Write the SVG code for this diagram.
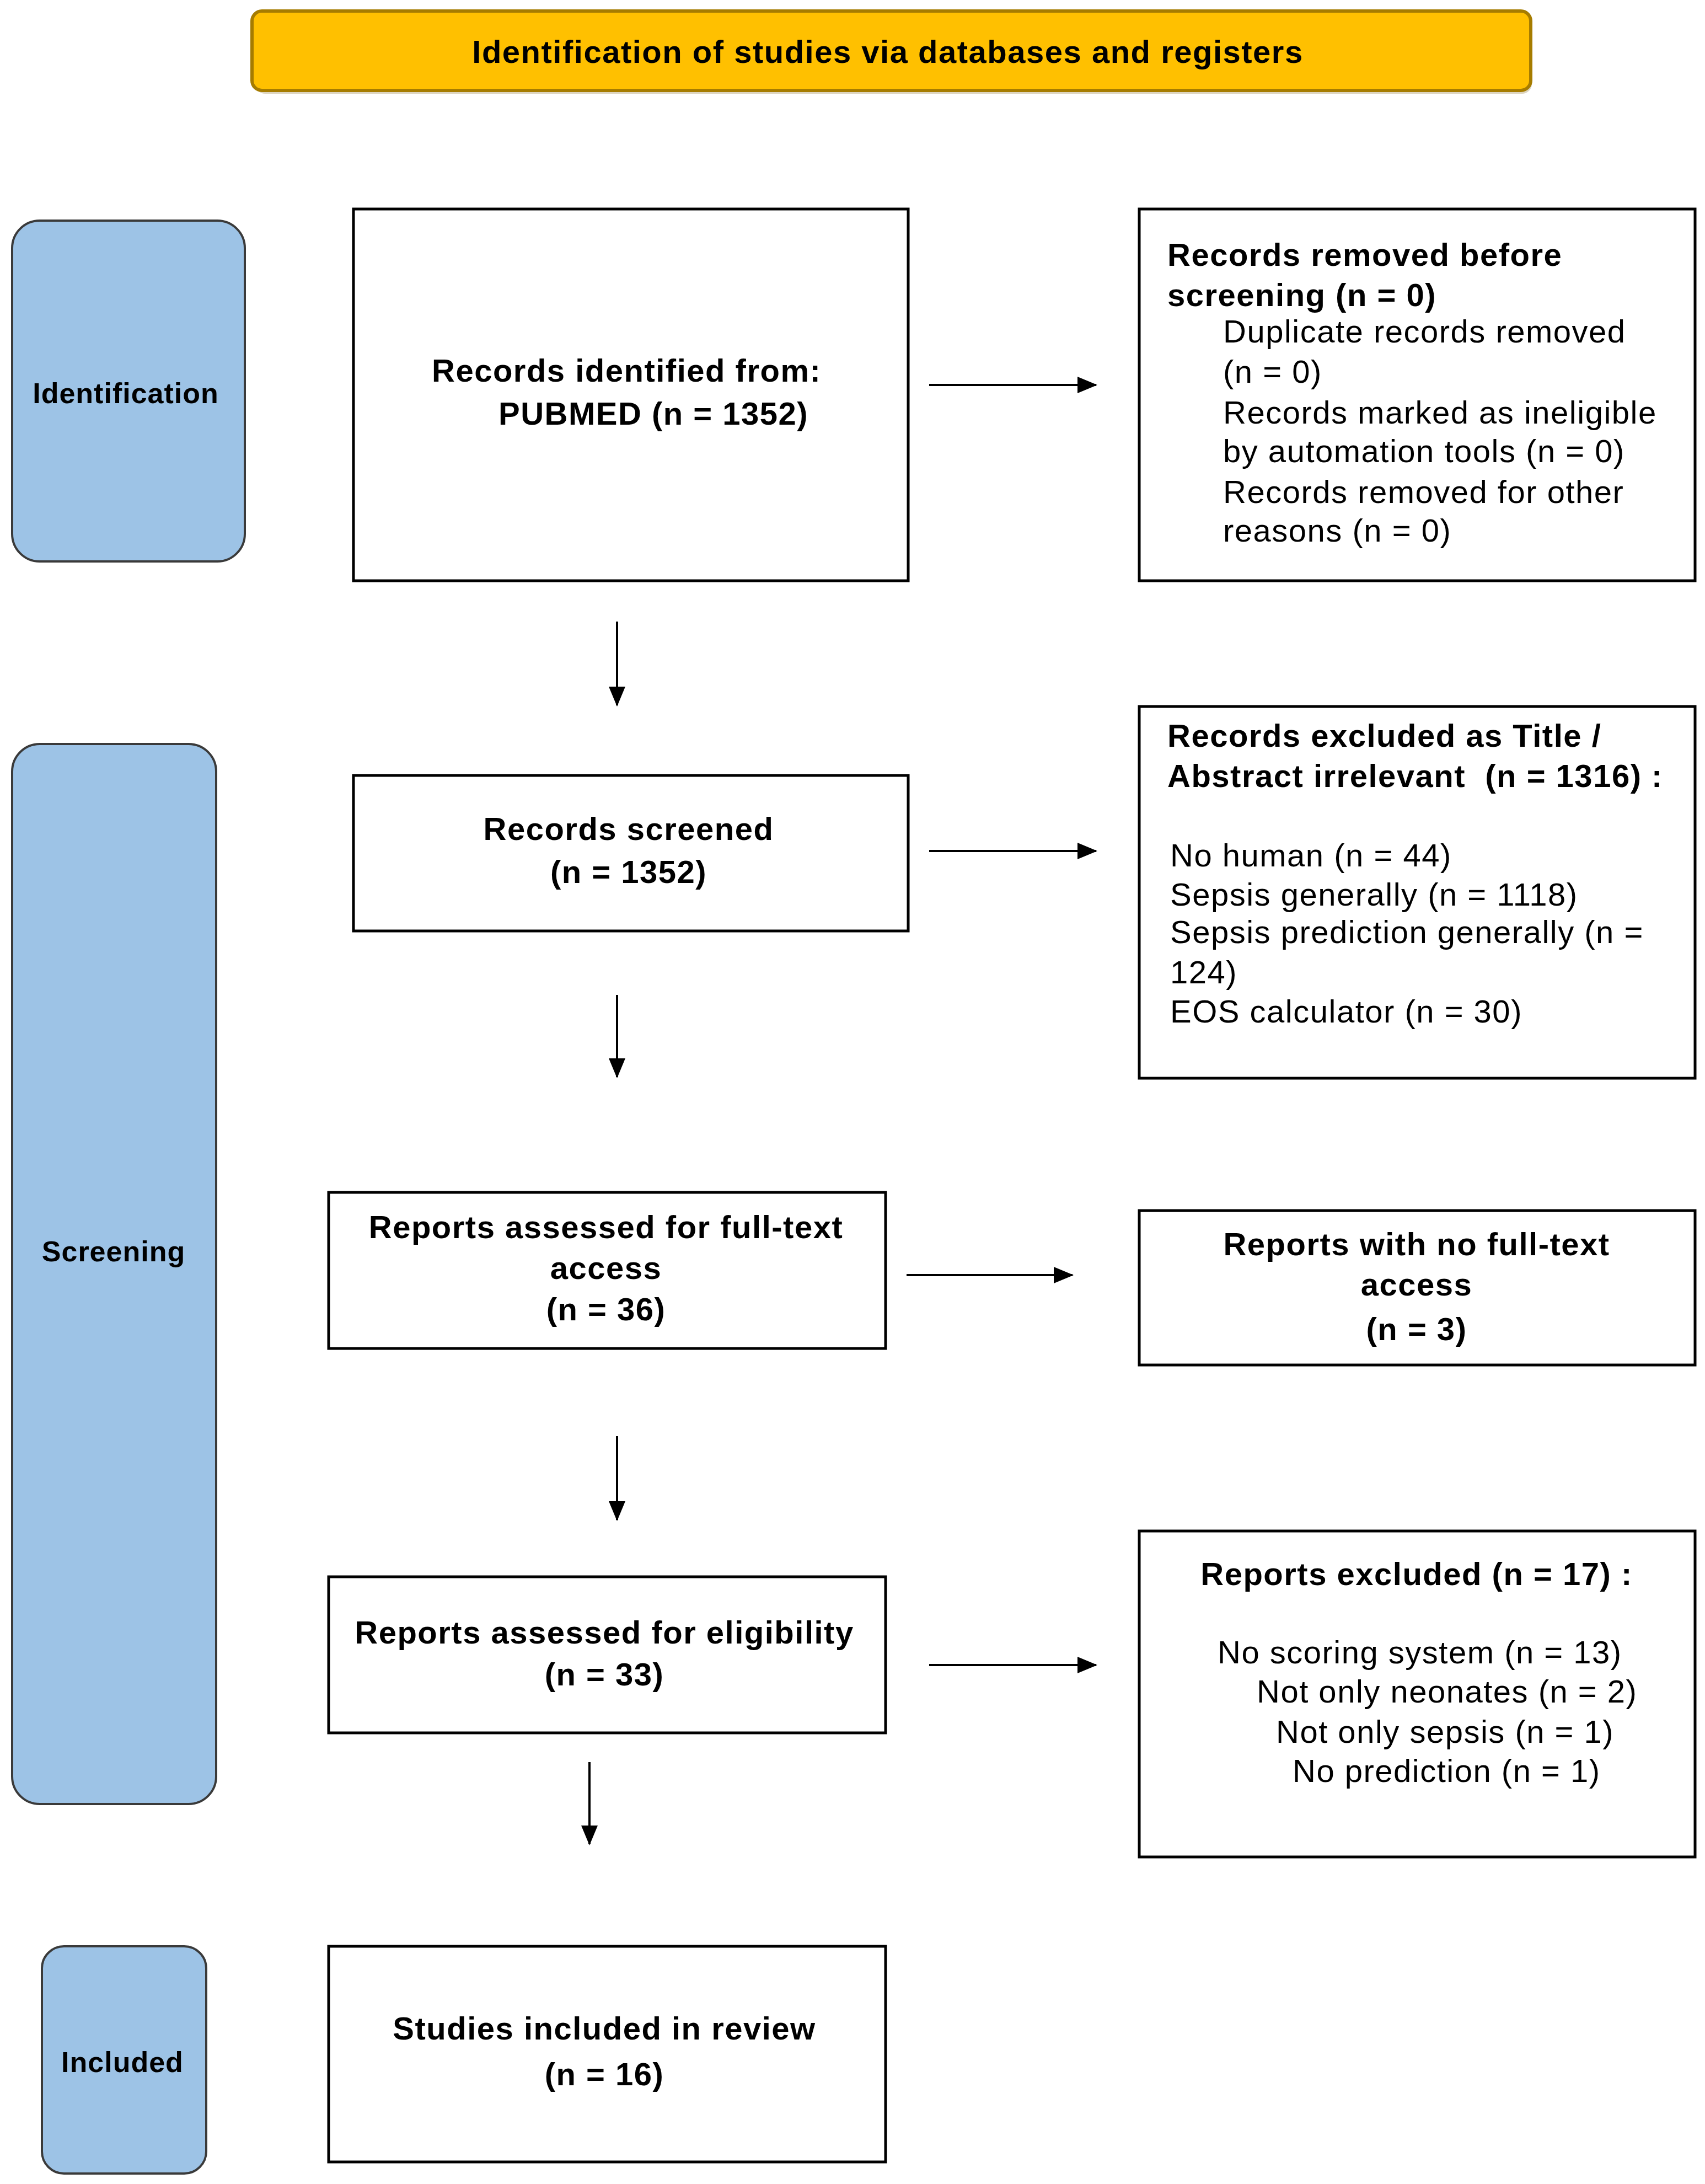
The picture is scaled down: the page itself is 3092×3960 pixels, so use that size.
<svg xmlns="http://www.w3.org/2000/svg" width="3092" height="3960" viewBox="0 0 3092 3960">
<defs>
<style>
.box{fill:#fff;stroke:#000;stroke-width:5}
.side{fill:#9DC3E6;stroke:#3a3a3a;stroke-width:4}
.t{font-family:"Liberation Sans",Arial,sans-serif;font-size:58px;letter-spacing:1.5px;fill:#000}
.b{font-weight:bold}
.s{font-family:"Liberation Sans",Arial,sans-serif;font-size:52px;font-weight:bold;letter-spacing:1px;fill:#000}
.m{text-anchor:middle}
.c{stroke:#000;stroke-width:4;fill:none}
</style>
<marker id="ah" markerUnits="userSpaceOnUse" markerWidth="36" markerHeight="30" refX="34" refY="15" orient="auto">
<path d="M0,0 L36,15 L0,30 z" fill="#000"/>
</marker>
</defs>
<rect x="0" y="0" width="3092" height="3960" fill="#fff"/>

<g id="header">
<rect x="463" y="28" width="2315" height="142" rx="18" fill="#ddd5c0"/>
<rect x="457" y="20" width="2319" height="144" rx="18" fill="#FFC000" stroke="#A67C00" stroke-width="6"/>
<text class="t b m" x="1610" y="114">Identification of studies via databases and registers</text>
</g>

<g id="stage-identification">
<rect class="side" x="22" y="400" width="422" height="618" rx="50"/>
<text class="s m" x="228" y="731">Identification</text>
</g>
<g id="stage-screening">
<rect class="side" x="22" y="1349" width="370" height="1922" rx="50"/>
<text class="s m" x="206" y="2287">Screening</text>
</g>
<g id="stage-included">
<rect class="side" x="76" y="3529" width="298" height="412" rx="40"/>
<text class="s m" x="222" y="3757">Included</text>
</g>

<g id="records-identified">
<rect class="box" x="641" y="379" width="1006" height="674"/>
<text class="t b" x="783" y="692">Records identified from:</text>
<text class="t b" x="904" y="770">PUBMED (n = 1352)</text>
</g>

<g id="records-removed">
<rect class="box" x="2066" y="379" width="1008" height="674"/>
<text class="t b" x="2117" y="482">Records removed before</text>
<text class="t b" x="2117" y="555">screening (n = 0)</text>
<text class="t" x="2218" y="621">Duplicate records removed</text>
<text class="t" x="2218" y="694">(n = 0)</text>
<text class="t" x="2218" y="768">Records marked as ineligible</text>
<text class="t" x="2218" y="838">by automation tools (n = 0)</text>
<text class="t" x="2218" y="912">Records removed for other</text>
<text class="t" x="2218" y="982">reasons (n = 0)</text>
</g>

<g id="records-screened">
<rect class="box" x="641" y="1406" width="1006" height="282"/>
<text class="t b m" x="1140" y="1523">Records screened</text>
<text class="t b m" x="1140" y="1601">(n = 1352)</text>
</g>

<g id="records-excluded">
<rect class="box" x="2066" y="1281" width="1008" height="674"/>
<text class="t b" x="2117" y="1354">Records excluded as Title /</text>
<text class="t b" x="2117" y="1427" xml:space="preserve">Abstract irrelevant  (n = 1316) :</text>
<text class="t" x="2122" y="1571">No human (n = 44)</text>
<text class="t" x="2122" y="1642">Sepsis generally (n = 1118)</text>
<text class="t" x="2122" y="1710">Sepsis prediction generally (n =</text>
<text class="t" x="2122" y="1783">124)</text>
<text class="t" x="2122" y="1854">EOS calculator (n = 30)</text>
</g>

<g id="reports-fulltext">
<rect class="box" x="596" y="2162" width="1010" height="283"/>
<text class="t b m" x="1099" y="2245">Reports assessed for full-text</text>
<text class="t b m" x="1099" y="2319">access</text>
<text class="t b m" x="1099" y="2394">(n = 36)</text>
</g>

<g id="reports-no-fulltext">
<rect class="box" x="2066" y="2195" width="1008" height="280"/>
<text class="t b m" x="2569" y="2276">Reports with no full-text</text>
<text class="t b m" x="2569" y="2349">access</text>
<text class="t b m" x="2569" y="2430">(n = 3)</text>
</g>

<g id="reports-eligibility">
<rect class="box" x="596" y="2859" width="1010" height="283"/>
<text class="t b m" x="1096" y="2980">Reports assessed for eligibility</text>
<text class="t b m" x="1096" y="3056">(n = 33)</text>
</g>

<g id="reports-excluded">
<rect class="box" x="2066" y="2776" width="1008" height="591"/>
<text class="t b m" x="2569" y="2874">Reports excluded (n = 17) :</text>
<text class="t" x="2208" y="3016">No scoring system (n = 13)</text>
<text class="t" x="2279" y="3087">Not only neonates (n = 2)</text>
<text class="t" x="2314" y="3160">Not only sepsis (n = 1)</text>
<text class="t" x="2344" y="3231">No prediction (n = 1)</text>
</g>

<g id="studies-included">
<rect class="box" x="596" y="3529" width="1010" height="391"/>
<text class="t b m" x="1096" y="3698">Studies included in review</text>
<text class="t b m" x="1096" y="3781">(n = 16)</text>
</g>

<g id="connectors">
<line class="c" x1="1685" y1="698" x2="1988" y2="698" marker-end="url(#ah)"/>
<line class="c" x1="1685" y1="1543" x2="1988" y2="1543" marker-end="url(#ah)"/>
<line class="c" x1="1644" y1="2312" x2="1945" y2="2312" marker-end="url(#ah)"/>
<line class="c" x1="1685" y1="3019" x2="1988" y2="3019" marker-end="url(#ah)"/>
<line class="c" x1="1119" y1="1127" x2="1119" y2="1279" marker-end="url(#ah)"/>
<line class="c" x1="1119" y1="1804" x2="1119" y2="1953" marker-end="url(#ah)"/>
<line class="c" x1="1119" y1="2604" x2="1119" y2="2756" marker-end="url(#ah)"/>
<line class="c" x1="1069" y1="3195" x2="1069" y2="3344" marker-end="url(#ah)"/>
</g>
</svg>
